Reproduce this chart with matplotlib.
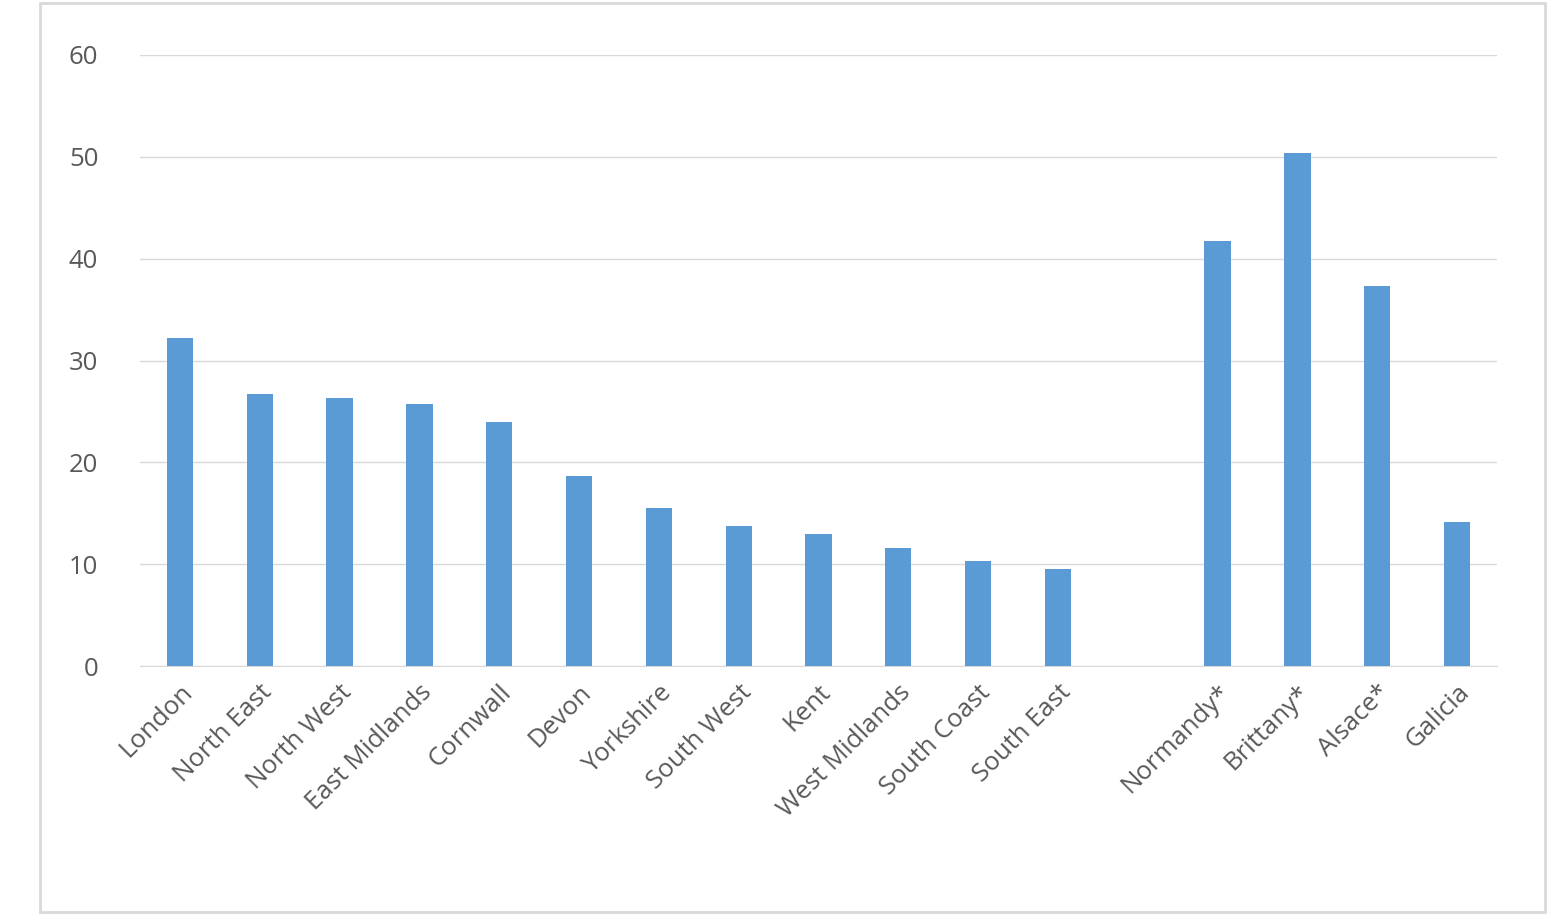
import matplotlib
matplotlib.use("Agg")
import matplotlib.pyplot as plt
from matplotlib.patches import Rectangle

plt.rcParams['font.family'] = ['Open Sans', 'DejaVu Sans']

categories = ["London", "North East", "North West", "East Midlands", "Cornwall", "Devon",
              "Yorkshire", "South West", "Kent", "West Midlands", "South Coast", "South East",
              "", "Normandy*", "Brittany*", "Alsace*", "Galicia"]
values = [32.2, 26.7, 26.3, 25.7, 24.0, 18.7, 15.5, 13.75, 13.0, 11.6, 10.3, 9.5,
          None, 41.7, 50.4, 37.3, 14.1]
yticks = [0, 10, 20, 30, 40, 50, 60]

fig = plt.figure(figsize=(15.58, 9.15), dpi=100)
fig.patches.append(Rectangle((40/1558, 3/915), 1505/1558, 909/915, transform=fig.transFigure,
                             fill=False, edgecolor="#d9d9d9", linewidth=2))
ax = fig.add_axes([140/1558, 1 - 666/915, 1357/1558, 611/915])
xs = [i for i, v in enumerate(values) if v is not None]
vs = [v for v in values if v is not None]
ax.bar(xs, vs, width=0.33, color="#5b9bd5", zorder=3)
ax.set_xlim(-0.5, len(categories) - 0.5)
ax.set_ylim(0, 60)
ax.set_yticks(yticks)
ax.set_xticks(range(len(categories)))
ax.set_xticklabels(categories, rotation=45, ha="right", rotation_mode="anchor",
                   fontsize=18.5, color="#595959")
ax.tick_params(axis="y", labelsize=18.5, labelcolor="#595959", length=0, pad=30)
ax.tick_params(axis="x", length=0, pad=10)
ax.grid(axis="y", color="#d9d9d9", linewidth=1, zorder=0)
for s in ["top", "right", "left"]:
    ax.spines[s].set_visible(False)
ax.spines["bottom"].set_color("#d9d9d9")
fig.savefig("out.png")
